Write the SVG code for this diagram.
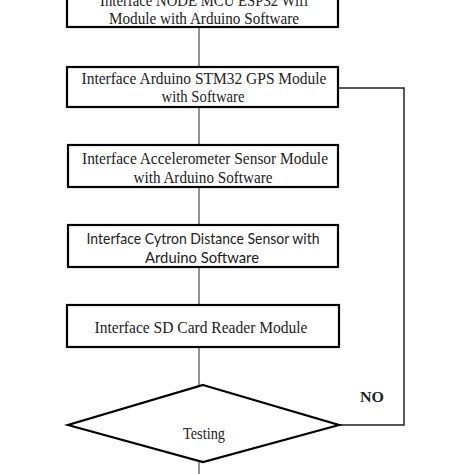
<svg xmlns="http://www.w3.org/2000/svg" width="474" height="474" viewBox="0 0 474 474">
<style>
.box{fill:#fff;stroke:#000;stroke-width:2.2}
.t{font-family:"Liberation Serif","Times New Roman",serif;font-size:17.5px;fill:#222;text-anchor:middle}
.s{font-family:"Lato","Open Sans",sans-serif;font-size:16px;fill:#222;text-anchor:middle}
.c{fill:none;stroke:#777;stroke-width:1.6}
.r{fill:none;stroke:#222;stroke-width:1.5}
</style>
<rect width="474" height="474" fill="#fff"/>
<g id="connectors">
<path class="c" d="M199 27V67M199 107V145M199 187V225M199 267V305M199 347V385M199 462V474"/>
<path class="r" d="M338 88H404V425H339"/>
<text x="372" y="402" font-family="Liberation Serif,serif" font-weight="bold" font-size="15" fill="#222" text-anchor="middle" textLength="24" lengthAdjust="spacingAndGlyphs">NO</text>
</g>
<g id="n1">
<rect class="box" x="67" y="-20" width="271" height="47"/>
<text class="t" x="204" y="6" textLength="208" lengthAdjust="spacingAndGlyphs">Interface NODE MCU ESP32 Wifi</text>
<text class="t" x="204" y="24" textLength="190" lengthAdjust="spacingAndGlyphs">Module with Arduino Software</text>
</g>
<g id="n2">
<rect class="box" x="67" y="67" width="271" height="40"/>
<text class="t" x="204" y="84" textLength="245" lengthAdjust="spacingAndGlyphs">Interface Arduino STM32 GPS Module</text>
<text class="t" x="203" y="102" textLength="83" lengthAdjust="spacingAndGlyphs">with Software</text>
</g>
<g id="n3">
<rect class="box" x="68" y="145" width="270" height="42"/>
<text class="t" x="205" y="164" textLength="246" lengthAdjust="spacingAndGlyphs">Interface Accelerometer Sensor Module</text>
<text class="t" x="203" y="183" textLength="139" lengthAdjust="spacingAndGlyphs">with Arduino Software</text>
</g>
<g id="n4">
<rect class="box" x="68" y="225" width="270" height="42"/>
<text class="s" x="203" y="244" textLength="233" lengthAdjust="spacingAndGlyphs">Interface Cytron Distance Sensor with</text>
<text class="s" x="202" y="263" textLength="114" lengthAdjust="spacingAndGlyphs">Arduino Software</text>
</g>
<g id="n5">
<rect class="box" x="67" y="305" width="272" height="42"/>
<text class="t" x="201" y="333" textLength="213" lengthAdjust="spacingAndGlyphs">Interface SD Card Reader Module</text>
</g>
<g id="n6">
<polygon class="box" points="203,385 339,425 203,462 68,425"/>
<text class="t" x="204" y="439" textLength="42" lengthAdjust="spacingAndGlyphs">Testing</text>
</g>
</svg>
